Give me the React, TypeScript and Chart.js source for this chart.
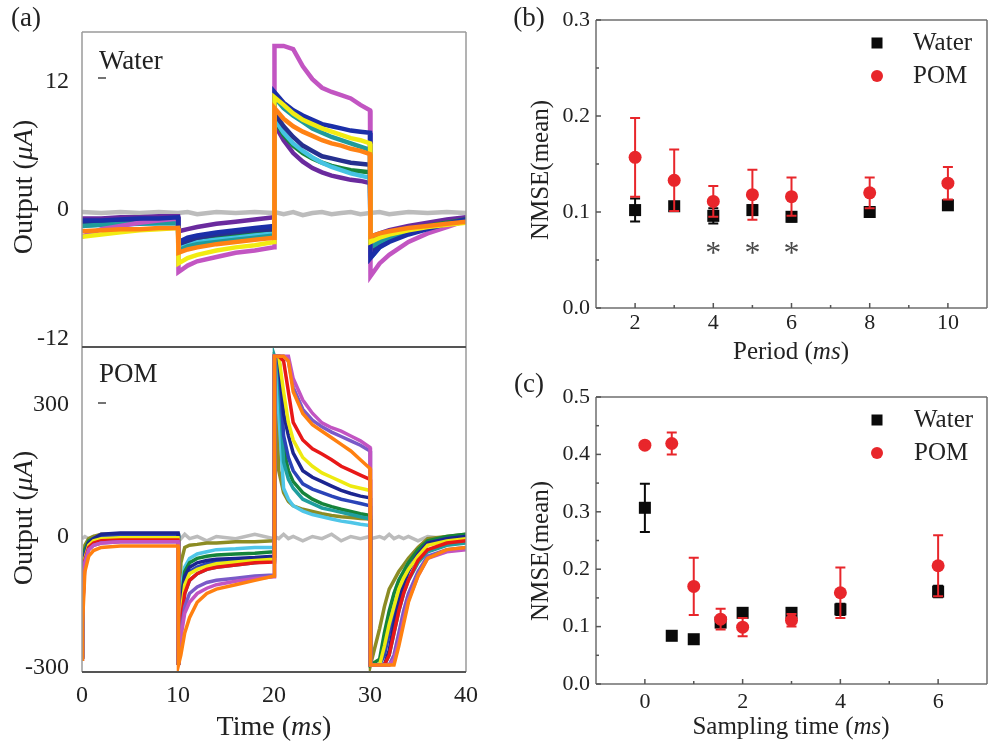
import React, { useEffect, useRef } from 'react';
import { Chart, registerables } from 'chart.js';

Chart.register(...registerables);

const SERIF = '"Liberation Serif", "Times New Roman", Times, serif';
const INK = '#222222';

// ---------------- Panel (a): time traces ----------------
// Water (µA), sampled at waterTime (ms)
const waterTime = [0, 2, 4, 6, 8, 10, 10.05, 11, 12, 14, 16, 18, 20, 20.05, 21, 22, 23, 24, 25, 26, 27, 28, 29, 30, 30.05, 31, 32, 34, 36, 38, 40];
const waterGray = [-0.2, -0.3, -0.2, -0.3, -0.2, -0.3, -0.3, -0.2, -0.4, -0.2, -0.3, -0.2, -0.3, -0.2, -0.4, -0.2, -0.5, -0.3, -0.2, -0.4, -0.3, -0.2, -0.4, -0.3, -0.3, -0.2, -0.4, -0.2, -0.3, -0.2, -0.3];
const waterPurple = [-0.8, -0.8, -0.7, -0.7, -0.6, -0.6, -2.0, -1.8, -1.6, -1.3, -1.1, -0.9, -0.7, 8.0, 6.5, 5.3, 4.5, 3.9, 3.5, 3.2, 3.0, 2.8, 2.7, 2.5, -2.5, -2.2, -1.9, -1.5, -1.2, -0.9, -0.7];
const waterGreen = [-1.3, -1.2, -1.1, -1.1, -1.0, -1.0, -3.5, -3.1, -2.9, -2.6, -2.4, -2.2, -2.0, 8.5, 7.0, 6.0, 5.3, 4.8, 4.4, 4.1, 3.9, 3.7, 3.6, 3.5, -3.0, -2.6, -2.3, -1.8, -1.5, -1.2, -0.9];
const waterCyan = [-1.5, -1.4, -1.4, -1.3, -1.3, -1.3, -3.6, -3.3, -3.0, -2.8, -2.6, -2.4, -2.2, 8.5, 7.2, 6.2, 5.5, 4.9, 4.4, 4.0, 3.7, 3.4, 3.2, 3.0, -4.5, -3.5, -2.9, -2.2, -1.7, -1.3, -1.0];
const waterNavyLow = [-1.2, -1.1, -1.0, -1.0, -0.9, -0.9, -3.2, -2.9, -2.6, -2.3, -2.1, -1.9, -1.8, 9.0, 7.8, 6.8, 6.0, 5.5, 5.0, 4.8, 4.6, 4.4, 4.3, 4.2, -4.0, -3.2, -2.8, -2.2, -1.7, -1.3, -1.0];
const waterTeal = [-1.5, -1.4, -1.3, -1.3, -1.2, -1.2, -3.8, -3.4, -3.2, -3.0, -2.8, -2.6, -2.4, 10.5, 9.5, 8.8, 8.2, 7.6, 7.2, 6.8, 6.5, 6.2, 5.9, 5.6, -3.5, -3.0, -2.6, -2.1, -1.7, -1.4, -1.1];
const waterMagenta = [-2.5, -1.8, -1.5, -1.2, -1.0, -0.8, -5.8, -5.2, -4.8, -4.4, -4.0, -3.8, -3.5, 15.3, 15.3, 15.0, 13.4, 12.2, 11.4, 11.0, 10.7, 10.4, 9.8, 9.3, -6.2, -5.0, -4.2, -3.0, -2.2, -1.6, -1.0];
const waterNavy = [-1.0, -1.0, -0.9, -0.8, -0.8, -0.7, -3.0, -2.6, -2.4, -2.1, -1.9, -1.7, -1.5, 11.0, 10.0, 9.3, 8.8, 8.4, 8.0, 7.8, 7.6, 7.4, 7.3, 7.2, -4.5, -3.5, -3.0, -2.3, -1.8, -1.3, -0.9];
const waterYellow = [-2.5, -2.3, -2.1, -1.9, -1.8, -1.7, -5.0, -4.5, -4.2, -3.8, -3.5, -3.3, -3.0, 10.5, 9.8, 9.0, 8.4, 8.0, 7.6, 7.3, 7.0, 6.7, 6.5, 6.2, -3.0, -2.6, -2.3, -1.9, -1.6, -1.4, -1.2];
const waterOrange = [-2.0, -1.9, -1.8, -1.8, -1.7, -1.7, -4.0, -3.7, -3.5, -3.2, -3.0, -2.8, -2.6, 9.5, 8.5, 7.8, 7.3, 6.9, 6.5, 6.2, 6.0, 5.7, 5.5, 5.2, -2.5, -2.2, -2.0, -1.7, -1.5, -1.3, -1.1];

// POM (µA), sampled at pomTime (ms)
const pomTime = [0, 0.05, 0.3, 0.7, 1.2, 2, 4, 6, 8, 10, 10.05, 10.3, 10.7, 11.2, 12, 13, 14, 16, 18, 20, 20.05, 20.5, 21, 21.5, 22, 23, 24, 25, 26, 27, 28, 29, 30, 30.05, 31, 31.5, 32, 32.5, 33, 33.5, 34, 35, 36, 38, 40];
const pomGray = [-5, -5, 0, -5, 0, -5, 0, -5, 0, -5, 0, -5, 5, -5, 0, -10, 0, -5, 5, -5, 0, -5, 5, -5, 0, -10, 0, -5, 5, -10, 0, -5, 0, -5, 0, -5, 5, -5, 0, -5, 0, -10, 0, -5, 0];
const pomOlive = [-270, -120, -20, -5, 0, 5, 5, 5, 5, 5, -293, -60, -25, -20, -18, -15, -15, -12, -12, -10, 411, 150, 100, 80, 70, 62, 57, 52, 48, 45, 43, 41, 40, -293, -210, -160, -120, -100, -80, -65, -50, -25, -5, 0, 5];
const pomCyan = [-270, -150, -40, -15, -5, 0, 5, 5, 5, 5, -293, -120, -70, -50, -40, -35, -30, -28, -25, -25, 411, 280, 110, 85, 70, 58, 50, 45, 40, 35, 32, 28, 25, -293, -293, -240, -180, -130, -100, -80, -60, -35, -15, -5, 0];
const pomGreen = [-275, -140, -30, -10, -5, 0, 5, 5, 5, 5, -293, -150, -80, -60, -50, -45, -42, -40, -38, -35, 411, 400, 200, 150, 125, 100, 85, 75, 68, 62, 57, 52, 48, -293, -280, -220, -170, -130, -100, -80, -60, -30, -10, 0, 5];
const pomTeal = [-275, -160, -50, -25, -15, -10, -5, -5, -5, -5, -293, -200, -130, -100, -85, -75, -70, -65, -60, -55, 411, 380, 170, 130, 110, 85, 75, 65, 60, 55, 50, 45, 40, -293, -293, -293, -270, -220, -170, -130, -100, -60, -35, -20, -15];
const pomBlue = [-275, -150, -40, -15, -5, 0, 3, 3, 3, 3, -293, -170, -100, -80, -70, -62, -58, -55, -52, -50, 411, 411, 230, 180, 150, 120, 108, 100, 92, 85, 80, 75, 70, -293, -293, -270, -220, -170, -130, -100, -75, -40, -15, -5, 0];
const pomNavy = [-275, -160, -45, -15, -5, 5, 8, 8, 8, 8, -293, -160, -90, -70, -60, -55, -52, -50, -48, -45, 411, 411, 280, 230, 190, 150, 135, 125, 115, 105, 98, 92, 88, -293, -293, -293, -260, -200, -150, -110, -80, -40, -15, -5, 0];
const pomYellow = [-275, -160, -50, -20, -10, -5, -3, -3, -3, -3, -293, -180, -110, -85, -75, -68, -62, -58, -55, -52, 411, 411, 330, 260, 220, 180, 160, 145, 135, 125, 115, 110, 105, -293, -293, -250, -200, -160, -120, -95, -75, -45, -20, -10, -5];
const pomRed = [-275, -170, -55, -25, -15, -10, -8, -8, -8, -8, -293, -200, -130, -100, -85, -75, -70, -65, -60, -58, 411, 411, 400, 330, 260, 220, 200, 188, 175, 160, 150, 140, 130, -293, -293, -293, -270, -220, -170, -130, -100, -55, -30, -15, -10];
const pomViolet = [-275, -170, -60, -30, -20, -15, -12, -12, -12, -12, -293, -220, -160, -130, -115, -105, -100, -95, -90, -88, 411, 411, 411, 400, 340, 290, 265, 250, 238, 228, 218, 208, 195, -293, -293, -293, -293, -270, -220, -170, -130, -80, -45, -30, -25];
const pomMagenta = [-280, -180, -60, -30, -20, -15, -12, -12, -12, -12, -293, -230, -175, -150, -130, -118, -110, -102, -96, -92, 411, 411, 411, 411, 360, 311, 281, 259, 248, 240, 229, 218, 203, -293, -293, -293, -293, -280, -240, -190, -145, -90, -50, -35, -30];
const pomOrange = [-280, -200, -80, -45, -32, -25, -22, -22, -22, -22, -293, -270, -220, -185, -150, -130, -120, -110, -100, -90, 411, 411, 411, 400, 330, 280, 255, 240, 225, 210, 195, 175, 155, -293, -293, -293, -293, -293, -250, -200, -150, -90, -50, -30, -25];

const timeTicks = [0, 10, 20, 30, 40];
const waterYTicks = [-12, 0, 12];
const pomYTicks = [-300, 0, 300];

// ---------------- Panel (b): NMSE vs period ----------------
const periods = [2, 3, 4, 5, 6, 8, 10];
const waterNmseB = [0.102, 0.106, 0.096, 0.102, 0.095, 0.100, 0.107];
const waterErrB = [0.012, 0.004, 0.008, 0.005, 0.005, 0.004, 0.005];
const pomNmseB = [0.157, 0.133, 0.111, 0.118, 0.116, 0.120, 0.130];
const pomErrB = [0.041, 0.032, 0.016, 0.026, 0.020, 0.016, 0.017];
const asteriskPeriods = [4, 5, 6];
const asteriskLevel = 0.062;
const periodTicks = [2, 4, 6, 8, 10];
const periodMinorTicks = [3, 5, 7, 9];
const nmseTicksB = [0, 0.1, 0.2, 0.3];
const nmseMinorB = [0.05, 0.15, 0.25];

// ---------------- Panel (c): NMSE vs sampling time ----------------
const samplingTimes = [0, 0.55, 1, 1.55, 2, 3, 4, 6];
const waterNmseC = [0.307, 0.084, 0.078, 0.107, 0.124, 0.124, 0.130, 0.161];
const waterErrC = [0.042, 0.004, 0.004, 0.006, 0.005, 0.005, 0.010, 0.010];
const pomNmseC = [0.416, 0.419, 0.170, 0.113, 0.099, 0.111, 0.159, 0.206];
const pomErrC = [0.005, 0.019, 0.050, 0.018, 0.016, 0.011, 0.044, 0.053];
const samplingTicks = [0, 2, 4, 6];
const samplingMinorTicks = [1, 3, 5];
const nmseTicksC = [0, 0.1, 0.2, 0.3, 0.4, 0.5];
const nmseMinorC = [0.05, 0.15, 0.25, 0.35, 0.45];

const WATER_COLOR = '#0a0a0a';
const POM_COLOR = '#e8262b';

// ---------------- helpers ----------------
type Part = [string, boolean];
type Label = { parts: Part[]; x: number; y: number; size: number; rotate?: boolean; align?: 'left' | 'center' };

function drawParts(ctx: CanvasRenderingContext2D, l: Label) {
  ctx.save();
  const fonts = l.parts.map(([, it]) => `${it ? 'italic ' : ''}${l.size}px ${SERIF}`);
  const widths = l.parts.map(([t], i) => {
    ctx.font = fonts[i];
    return ctx.measureText(t).width;
  });
  const total = widths.reduce((a, b) => a + b, 0);
  ctx.translate(l.x, l.y);
  if (l.rotate) ctx.rotate(-Math.PI / 2);
  let cx = l.align === 'left' ? 0 : -total / 2;
  ctx.fillStyle = INK;
  ctx.textBaseline = 'middle';
  ctx.textAlign = 'left';
  l.parts.forEach(([t], i) => {
    ctx.font = fonts[i];
    ctx.fillText(t, cx, 0);
    cx += widths[i];
  });
  ctx.restore();
}

type Sides = { top: [string, number]; right: [string, number]; bottom: [string, number]; left: [string, number] };

function decorPlugin(o: {
  sides: Sides;
  labels: Label[];
  xMajor?: number[];
  xMinor?: number[];
  yMajor?: number[];
  yMinor?: number[];
  dashes?: { x1: number; x2: number; y: number }[];
  extra?: (chart: any) => void;
}) {
  return {
    id: 'decor',
    afterDraw(chart: any) {
      const { ctx, chartArea: a, scales } = chart;
      ctx.save();
      const seg = (c: [string, number], x1: number, y1: number, x2: number, y2: number) => {
        ctx.strokeStyle = c[0];
        ctx.lineWidth = c[1];
        ctx.beginPath();
        ctx.moveTo(x1, y1);
        ctx.lineTo(x2, y2);
        ctx.stroke();
      };
      seg(o.sides.left, a.left, a.top, a.left, a.bottom);
      seg(o.sides.right, a.right, a.top, a.right, a.bottom);
      seg(o.sides.top, a.left, a.top, a.right, a.top);
      seg(o.sides.bottom, a.left, a.bottom, a.right, a.bottom);
      const tc: [string, number] = ['#555555', 1.5];
      (o.xMajor || []).forEach((v) => {
        const px = scales.x.getPixelForValue(v);
        seg(tc, px, a.bottom, px, a.bottom - 5);
      });
      (o.xMinor || []).forEach((v) => {
        const px = scales.x.getPixelForValue(v);
        seg(tc, px, a.bottom, px, a.bottom - 3);
      });
      (o.yMajor || []).forEach((v) => {
        const py = scales.y.getPixelForValue(v);
        seg(tc, a.left, py, a.left + 5, py);
      });
      (o.yMinor || []).forEach((v) => {
        const py = scales.y.getPixelForValue(v);
        seg(tc, a.left, py, a.left + 3, py);
      });
      (o.dashes || []).forEach((d) => seg(['#444444', 1.5], d.x1, d.y, d.x2, d.y));
      ctx.restore();
      o.labels.forEach((l) => drawParts(ctx, l));
      if (o.extra) o.extra(chart);
    },
  };
}

const errorBarPlugin = {
  id: 'errorBars',
  afterDatasetDraw(chart: any, args: any) {
    const ds = chart.data.datasets[args.index];
    if (!ds.errors) return;
    const { ctx, scales } = chart;
    ctx.save();
    ctx.strokeStyle = ds.borderColor;
    ctx.lineWidth = 2;
    ds.data.forEach((p: any, i: number) => {
      const e = ds.errors[i];
      const px = scales.x.getPixelForValue(p.x);
      const top = scales.y.getPixelForValue(p.y + e);
      const bot = scales.y.getPixelForValue(p.y - e);
      ctx.beginPath();
      ctx.moveTo(px, top);
      ctx.lineTo(px, bot);
      ctx.moveTo(px - 5, top);
      ctx.lineTo(px + 5, top);
      ctx.moveTo(px - 5, bot);
      ctx.lineTo(px + 5, bot);
      ctx.stroke();
    });
    ctx.restore();
  },
};

function drawLegend(ctx: CanvasRenderingContext2D, mx: number, y1: number, y2: number, tx: number) {
  ctx.save();
  ctx.fillStyle = WATER_COLOR;
  ctx.fillRect(mx - 5.5, y1 - 5.5, 11, 11);
  ctx.fillStyle = POM_COLOR;
  ctx.beginPath();
  ctx.arc(mx, y2, 6, 0, Math.PI * 2);
  ctx.fill();
  ctx.restore();
  drawParts(ctx, { parts: [['Water', false]], x: tx, y: y1, size: 25, align: 'left' });
  drawParts(ctx, { parts: [['POM', false]], x: tx, y: y2, size: 25, align: 'left' });
}

type Trace = { color: string; values: number[] };

function traceConfig(o: {
  time: number[];
  traces: Trace[];
  yMin: number;
  yMax: number;
  yTicks: number[];
  xTicks: number[] | null;
  padding: any;
  xHeight: number;
  lineWidth: number;
  plugins: any[];
}) {
  const n = o.traces.length;
  return {
    type: 'line',
    data: {
      datasets: o.traces.map((tr, i) => ({
        data: o.time.map((t, k) => ({ x: t, y: tr.values[k] })),
        borderColor: tr.color,
        backgroundColor: tr.color,
        borderWidth: o.lineWidth,
        pointRadius: 0,
        tension: 0,
        fill: false,
        order: n - i,
      })),
    },
    options: {
      responsive: false,
      animation: false,
      devicePixelRatio: 1,
      layout: { padding: o.padding },
      plugins: { legend: { display: false }, tooltip: { enabled: false } },
      scales: {
        x: {
          type: 'linear',
          min: 0,
          max: 40,
          display: !!o.xTicks,
          grid: { display: false, drawTicks: false },
          border: { display: false },
          ticks: { font: { family: SERIF, size: 24 }, color: INK, padding: 9, maxRotation: 0 },
          afterBuildTicks: (s: any) => {
            s.ticks = (o.xTicks || []).map((v) => ({ value: v }));
          },
          afterFit: (s: any) => {
            s.height = o.xHeight;
          },
        },
        y: {
          type: 'linear',
          min: o.yMin,
          max: o.yMax,
          grid: { display: false, drawTicks: false },
          border: { display: false },
          ticks: { font: { family: SERIF, size: 24 }, color: INK, padding: 13, callback: (v: any) => String(v) },
          afterBuildTicks: (s: any) => {
            s.ticks = o.yTicks.map((v) => ({ value: v }));
          },
          afterFit: (s: any) => {
            s.width = 82;
          },
        },
      },
    },
    plugins: o.plugins,
  };
}

function scatterConfig(o: {
  xs: number[];
  water: number[];
  waterErr: number[];
  pom: number[];
  pomErr: number[];
  xMin: number;
  xMax: number;
  xTicks: number[];
  yMax: number;
  yTicks: number[];
  padding: any;
  xHeight: number;
  xPad: number;
  plugins: any[];
}) {
  return {
    type: 'scatter',
    data: {
      datasets: [
        {
          label: 'Water',
          data: o.xs.map((x, i) => ({ x, y: o.water[i] })),
          errors: o.waterErr,
          pointStyle: 'rect',
          pointRadius: 8.5,
          borderWidth: 0,
          backgroundColor: WATER_COLOR,
          borderColor: WATER_COLOR,
          order: 2,
        },
        {
          label: 'POM',
          data: o.xs.map((x, i) => ({ x, y: o.pom[i] })),
          errors: o.pomErr,
          pointStyle: 'circle',
          pointRadius: 6.5,
          borderWidth: 0,
          backgroundColor: POM_COLOR,
          borderColor: POM_COLOR,
          order: 1,
        },
      ],
    },
    options: {
      responsive: false,
      animation: false,
      devicePixelRatio: 1,
      layout: { padding: o.padding },
      plugins: { legend: { display: false }, tooltip: { enabled: false } },
      scales: {
        x: {
          type: 'linear',
          min: o.xMin,
          max: o.xMax,
          grid: { display: false, drawTicks: false },
          border: { display: false },
          ticks: { font: { family: SERIF, size: 22 }, color: INK, padding: o.xPad, maxRotation: 0, callback: (v: any) => String(v) },
          afterBuildTicks: (s: any) => {
            s.ticks = o.xTicks.map((v) => ({ value: v }));
          },
          afterFit: (s: any) => {
            s.height = o.xHeight;
          },
        },
        y: {
          type: 'linear',
          min: 0,
          max: o.yMax,
          grid: { display: false, drawTicks: false },
          border: { display: false },
          ticks: { font: { family: SERIF, size: 22 }, color: INK, padding: 6, callback: (v: any) => Number(v).toFixed(1) },
          afterBuildTicks: (s: any) => {
            s.ticks = o.yTicks.map((v) => ({ value: v }));
          },
          afterFit: (s: any) => {
            s.width = 116;
          },
        },
      },
    },
    plugins: [errorBarPlugin, ...o.plugins],
  };
}

function ChartCanvas(props: { left: number; top: number; width: number; height: number; make: () => any }) {
  const ref = useRef<HTMLCanvasElement | null>(null);
  useEffect(() => {
    if (!ref.current) return;
    const chart = new Chart(ref.current, props.make());
    return () => chart.destroy();
  }, []);
  return (
    <canvas
      ref={ref}
      width={props.width}
      height={props.height}
      style={{ position: 'absolute', left: props.left, top: props.top, width: props.width, height: props.height }}
    />
  );
}

const LIGHT: [string, number] = ['#9a9a9a', 1.5];
const DARK: [string, number] = ['#555555', 2];
const AXIS: [string, number] = ['#6e6e6e', 1.5];

const waterTraces: Trace[] = [
  { color: '#bcbcbc', values: waterGray },
  { color: '#6a2a9e', values: waterPurple },
  { color: '#17853a', values: waterGreen },
  { color: '#45c3e3', values: waterCyan },
  { color: '#26308f', values: waterNavyLow },
  { color: '#1f9b9b', values: waterTeal },
  { color: '#c255c2', values: waterMagenta },
  { color: '#1b2fa8', values: waterNavy },
  { color: '#f2ec12', values: waterYellow },
  { color: '#ff8214', values: waterOrange },
];

const pomTraces: Trace[] = [
  { color: '#bcbcbc', values: pomGray },
  { color: '#8c8c24', values: pomOlive },
  { color: '#4fc6e8', values: pomCyan },
  { color: '#16843a', values: pomGreen },
  { color: '#1f9e9e', values: pomTeal },
  { color: '#2a44b8', values: pomBlue },
  { color: '#1b2590', values: pomNavy },
  { color: '#eeea10', values: pomYellow },
  { color: '#e81818', values: pomRed },
  { color: '#7a5ac8', values: pomViolet },
  { color: '#c254c2', values: pomMagenta },
  { color: '#ff8010', values: pomOrange },
];

const makeWater = () =>
  traceConfig({
    time: waterTime,
    traces: waterTraces,
    yMin: -12.8,
    yMax: 16.6,
    yTicks: waterYTicks,
    xTicks: null,
    padding: { top: 32, right: 34, bottom: 32, left: 0 },
    xHeight: 0,
    lineWidth: 4.5,
    plugins: [
      decorPlugin({
        sides: { top: LIGHT, right: LIGHT, left: LIGHT, bottom: DARK },
        labels: [
          { parts: [['(a)', false]], x: 26, y: 19, size: 27 },
          { parts: [['Output (', false], ['μA', true], [')', false]], x: 25, y: 187, size: 28, rotate: true },
          { parts: [['Water', false]], x: 99, y: 62, size: 27, align: 'left' },
        ],
        dashes: [{ x1: 98, x2: 106, y: 78 }],
      }),
    ],
  });

const makePom = () =>
  traceConfig({
    time: pomTime,
    traces: pomTraces,
    yMin: -309,
    yMax: 432,
    yTicks: pomYTicks,
    xTicks: timeTicks,
    padding: { top: 32, right: 34, bottom: 0, left: 0 },
    xHeight: 84,
    lineWidth: 3.5,
    plugins: [
      decorPlugin({
        sides: { top: DARK, right: LIGHT, left: LIGHT, bottom: DARK },
        labels: [
          { parts: [['Output (', false], ['μA', true], [')', false]], x: 25, y: 203, size: 28, rotate: true },
          { parts: [['POM', false]], x: 99, y: 60, size: 27, align: 'left' },
          { parts: [['Time (', false], ['ms', true], [')', false]], x: 274, y: 413, size: 28 },
        ],
        dashes: [{ x1: 98, x2: 106, y: 88 }],
      }),
    ],
  });

const makePeriod = () =>
  scatterConfig({
    xs: periods,
    water: waterNmseB,
    waterErr: waterErrB,
    pom: pomNmseB,
    pomErr: pomErrB,
    xMin: 1,
    xMax: 11,
    xTicks: periodTicks,
    yMax: 0.3,
    yTicks: nmseTicksB,
    padding: { top: 20, right: 13, bottom: 0, left: 0 },
    xHeight: 62,
    xPad: 2,
    plugins: [
      decorPlugin({
        sides: { top: AXIS, right: AXIS, left: AXIS, bottom: AXIS },
        xMajor: periodTicks,
        xMinor: periodMinorTicks,
        yMajor: nmseTicksB,
        yMinor: nmseMinorB,
        labels: [
          { parts: [['(b)', false]], x: 49, y: 19, size: 27 },
          { parts: [['NMSE(mean)', false]], x: 61, y: 170, size: 25, rotate: true },
          { parts: [['Period (', false], ['ms', true], [')', false]], x: 311, y: 352, size: 25 },
        ],
        extra: (chart: any) => {
          const { ctx, scales } = chart;
          drawLegend(ctx, 397, 43, 76, 433);
          ctx.save();
          ctx.font = `32px ${SERIF}`;
          ctx.fillStyle = '#4a4a4a';
          ctx.textAlign = 'center';
          ctx.textBaseline = 'alphabetic';
          const m = ctx.measureText('*');
          const off = (m.actualBoundingBoxAscent - m.actualBoundingBoxDescent) / 2;
          asteriskPeriods.forEach((p) => {
            ctx.fillText('*', scales.x.getPixelForValue(p), scales.y.getPixelForValue(asteriskLevel) + off);
          });
          ctx.restore();
        },
      }),
    ],
  });

const makeSampling = () =>
  scatterConfig({
    xs: samplingTimes,
    water: waterNmseC,
    waterErr: waterErrC,
    pom: pomNmseC,
    pomErr: pomErrC,
    xMin: -1,
    xMax: 7,
    xTicks: samplingTicks,
    yMax: 0.5,
    yTicks: nmseTicksC,
    padding: { top: 27, right: 13, bottom: 0, left: 0 },
    xHeight: 72,
    xPad: 5,
    plugins: [
      decorPlugin({
        sides: { top: AXIS, right: AXIS, left: AXIS, bottom: AXIS },
        xMajor: samplingTicks,
        xMinor: samplingMinorTicks,
        yMajor: nmseTicksC,
        yMinor: nmseMinorC,
        labels: [
          { parts: [['(c)', false]], x: 49, y: 15, size: 27 },
          { parts: [['NMSE(mean)', false]], x: 61, y: 181, size: 25, rotate: true },
          { parts: [['Sampling time (', false], ['ms', true], [')', false]], x: 311, y: 357, size: 25 },
        ],
        extra: (chart: any) => drawLegend(chart.ctx, 397, 50, 83, 434),
      }),
    ],
  });

export default function App() {
  return (
    <div style={{ position: 'fixed', left: 0, top: 0, width: 1000, height: 756, background: '#ffffff', overflow: 'hidden' }}>
      <ChartCanvas left={0} top={0} width={500} height={379} make={makeWater} />
      <ChartCanvas left={0} top={315} width={500} height={441} make={makePom} />
      <ChartCanvas left={480} top={0} width={520} height={370} make={makePeriod} />
      <ChartCanvas left={480} top={370} width={520} height={386} make={makeSampling} />
    </div>
  );
}
